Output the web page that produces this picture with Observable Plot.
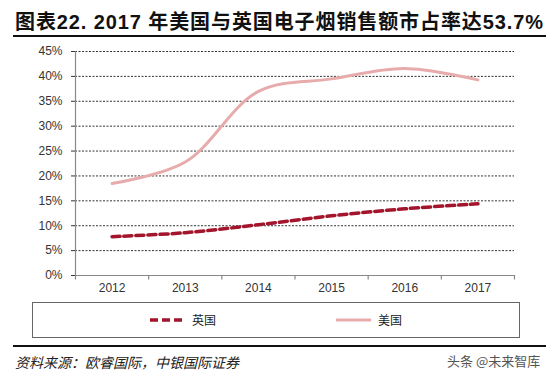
<!DOCTYPE html>
<html>
<head>
<meta charset="utf-8">
<script src="https://cdn.jsdelivr.net/npm/d3@7"></script>
<script src="https://cdn.jsdelivr.net/npm/@observablehq/plot@0.6"></script>
<style>
  html, body { margin: 0; padding: 0; background: #fff; }
  #wrap { position: relative; width: 554px; height: 372px; overflow: hidden; font-family: "Liberation Sans", Arial, "Noto Sans CJK SC", sans-serif; }
  #title { position: absolute; left: 15px; top: 6px; font-size: 20px; font-weight: bold; color: #111; white-space: nowrap; letter-spacing: 0.9px; }
  .rule { position: absolute; left: 13px; width: 533px; height: 2px; background: #111; }
  #chart { position: absolute; left: 0; top: 40px; }
  #legend { position: absolute; left: 32px; top: 302px; width: 486px; height: 34px; border: 1px solid #666; }
  .li { position: absolute; top: 8px; font-size: 12px; color: #222; font-family: "Noto Sans CJK SC", sans-serif; display: flex; align-items: center; }
  .li svg { margin-right: 7px; }
  #source { position: absolute; left: 15px; top: 352px; font-size: 14px; font-style: italic; color: #222; font-family: "Noto Sans CJK SC", sans-serif; }
  #mark { position: absolute; left: 447px; top: 351px; font-size: 13px; color: #555; font-family: "Noto Sans CJK SC", sans-serif; }
</style>
</head>
<body>
<div id="wrap">
  <div id="title">图表22. 2017 年美国与英国电子烟销售额市占率达53.7%</div>
  <div class="rule" style="top:35px"></div>
  <div id="chart"></div>
  <div id="legend"></div>
  <div class="rule" style="top:345px"></div>
  <div id="source">资料来源：欧睿国际，中银国际证券</div>
  <div id="mark">头条 @未来智库</div>
</div>
<script>
const years = [2012, 2013, 2014, 2015, 2016, 2017];
const ukValues = [0.078, 0.086, 0.102, 0.120, 0.134, 0.144];
const usValues = [0.185, 0.228, 0.370, 0.395, 0.416, 0.393];
const yTicks = [0, 0.05, 0.10, 0.15, 0.20, 0.25, 0.30, 0.35, 0.40, 0.45];
const seriesNames = ["英国", "美国"];
const seriesColors = ["#A3152C", "#E8ABAB"];

const uk = years.map((y, i) => ({year: y, value: ukValues[i]}));
const us = years.map((y, i) => ({year: y, value: usValues[i]}));
const boundaries = [years[0] - 0.5, ...years.map(y => y + 0.5)];

const chart = Plot.plot({
  width: 554,
  height: 260,
  marginLeft: 75,
  marginRight: 40,
  marginTop: 11,
  marginBottom: 25,
  style: {fontFamily: "'Liberation Sans', Arial, sans-serif", fontSize: "12px", color: "#333", background: "transparent"},
  x: {domain: [years[0] - 0.5, years[years.length - 1] + 0.5], axis: null},
  y: {domain: [0, 0.45], ticks: yTicks, tickFormat: d => Math.round(d * 100) + "%", tickSize: 4, tickPadding: 9, label: null},
  marks: [
    Plot.ruleY(yTicks.filter(d => d > 0), {stroke: "#333", strokeWidth: 1, strokeDasharray: "2,1.5"}),
    Plot.ruleY([0], {stroke: "#888", strokeWidth: 1.2}),
    Plot.ruleX([boundaries[0]], {y1: 0, y2: 0.45, stroke: "#888", strokeWidth: 1.2}),
    Plot.ruleX(boundaries, {y1: 0, y2: -0.009, stroke: "#888", strokeWidth: 1.2}),
    Plot.text(years, {x: d => d, y: 0, dy: 13, text: d => String(d), fill: "#333", fontSize: 12}),
    Plot.line(us, {x: "year", y: "value", stroke: seriesColors[1], strokeWidth: 3, curve: "catmull-rom"}),
    Plot.line(uk, {x: "year", y: "value", stroke: seriesColors[0], strokeWidth: 3.5, strokeDasharray: "8,4", curve: "catmull-rom"})
  ]
});
document.getElementById("chart").appendChild(chart);

const legend = document.getElementById("legend");
const legendLeft = [117, 303];
seriesNames.forEach((name, i) => {
  const item = document.createElement("div");
  item.className = "li";
  item.style.left = legendLeft[i] + "px";
  const dash = i === 0 ? 'stroke-dasharray="8,4"' : '';
  const sw = i === 0 ? 3.5 : 3;
  item.innerHTML = `<svg width="35" height="16"><line x1="0" x2="35" y1="8" y2="8" stroke="${seriesColors[i]}" stroke-width="${sw}" ${dash}/></svg><span>${name}</span>`;
  legend.appendChild(item);
});
</script>
</body>
</html>
